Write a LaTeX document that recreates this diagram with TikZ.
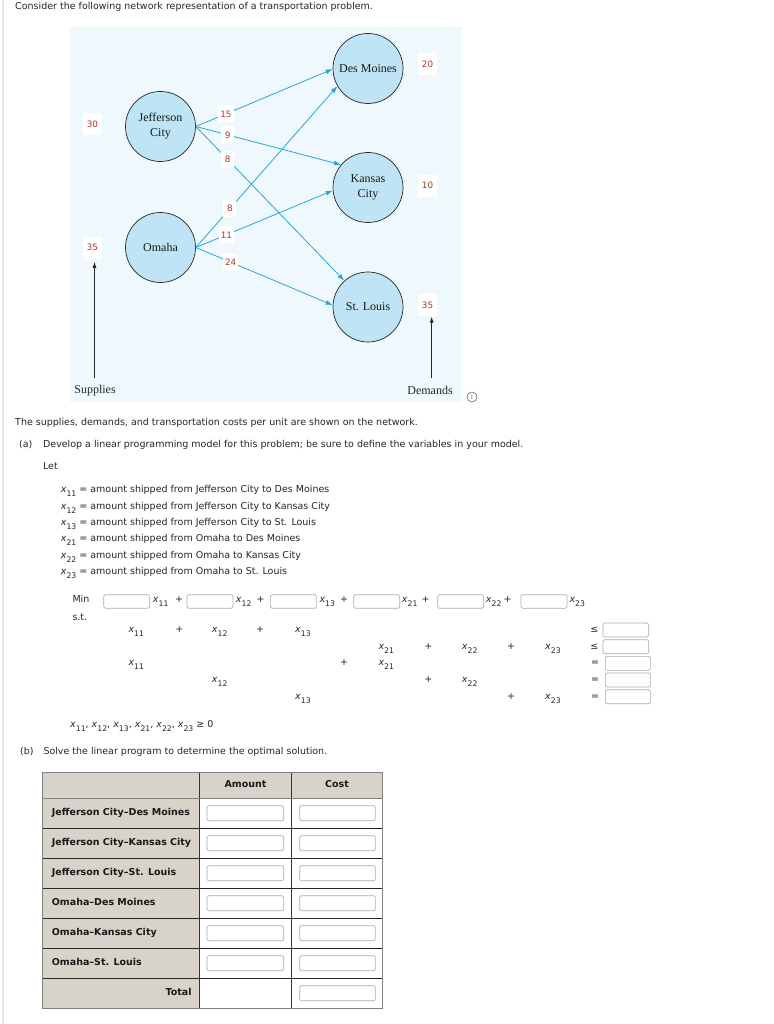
\documentclass[tikz,border=0pt]{standalone}
\usepackage{fontspec}
\setmainfont{DejaVu Sans}
\newfontfamily\netserif{Liberation Serif}
\usetikzlibrary{arrows.meta}
\definecolor{netbg}{HTML}{EEF8FD}
\definecolor{cityfill}{HTML}{BEE4F6}
\definecolor{flowc}{HTML}{29A7D5}
\definecolor{numred}{HTML}{A8382C}
\definecolor{tbg}{HTML}{D7D3CB}
\definecolor{boxgray}{HTML}{ABABAB}
\definecolor{bodyc}{HTML}{262626}
\definecolor{pageline}{HTML}{E2E2E2}
\newcommand{\bodysize}{\fontsize{9.5}{11}\selectfont}
\newcommand{\subsz}{\fontsize{7.7}{8}\selectfont}
\newcommand{\xv}[1]{\textit{x}\raisebox{-4pt}{\subsz #1}}
\begin{document}
\begin{tikzpicture}[x=1pt,y=-1pt,
  txt/.style={anchor=west,inner sep=0pt,font=\bodysize,text=bodyc,text height=7pt,text depth=2.2pt},
  ctxt/.style={txt,anchor=center},
  inbox/.style={draw=boxgray,line width=0.7pt,rounded corners=1.5pt,fill=white,inner sep=0pt,minimum width=46pt,minimum height=13.5pt,anchor=north west},
  city/.style={circle,draw=black!85,line width=0.7pt,fill=cityfill,minimum size=70pt,inner sep=0pt,align=center,font=\netserif\fontsize{12}{15}\selectfont,text=black!90},
  flow/.style={draw=flowc,line width=0.8pt,-{Latex[length=7pt,width=5pt]}},
  cost/.style={fill=white,inner xsep=2pt,inner ysep=0pt,minimum width=13pt,minimum height=17pt,font=\fontsize{8.8}{9}\selectfont,text=numred},
  sd/.style={fill=white,inner sep=0pt,minimum width=19pt,minimum height=22pt,font=\fontsize{8.8}{9}\selectfont,text=numred},
  sdarrow/.style={draw=black!85,line width=0.7pt,-{Latex[length=6pt,width=4pt]}},
  netlbl/.style={font=\netserif\fontsize{12}{14}\selectfont,text=black!85,inner sep=0pt},
  tlab/.style={txt,font=\bodysize\bfseries,text=black!90},
]
\useasboundingbox (0,0) rectangle (773,1024);
\fill[white] (0,0) rectangle (773,1024);
\draw[pageline,line width=1.5pt] (3,0) -- (3,1024);

% header
\node[txt] (hdr) at (15,7) {Consider the following network representation of a transportation problem.};

% network
\fill[netbg] (70,27) rectangle (462,402);
\node[city] (jc) at (160.5,126.5) {Jefferson\\City};
\node[city] (om) at (160.5,247.5) {Omaha};
\node[city] (dm) at (368,68.5) {Des Moines};
\node[city] (kc) at (368,187.5) {Kansas\\City};
\node[city] (sl) at (368,307) {St. Louis};

\draw[flow] (jc.east) -- node[cost,pos=0.22] (c11) {15} (dm.181);
\draw[flow] (jc.east) -- node[cost,pos=0.22] (c12) {9} (kc.140);
\draw[flow] (jc.east) -- node[cost,pos=0.215] (c13) {8} (sl.132);
\draw[flow] (om.east) -- node[cost,pos=0.24] (c21) {8} (dm.210);
\draw[flow] (om.east) -- node[cost,pos=0.223] (c22) {11} (kc.185);
\draw[flow] (om.east) -- node[cost,pos=0.254] (c23) {24} (sl.177);

\node[sd] (s30) at (92.5,124.3) {30};
\node[sd] (s35) at (92.5,247.7) {35};
\node[sd] (d20) at (427.5,64.3) {20};
\node[sd] (d10) at (427.5,185.7) {10};
\node[sd] (d35) at (427.5,305) {35};

\node[netlbl] (suplbl) at (95,390.7) {Supplies};
\node[netlbl] (demlbl) at (430,390.7) {Demands};
\coordinate (supbase) at (94.5,378);
\coordinate (dembase) at (431.7,378);
\draw[sdarrow,shorten >=3pt] (supbase) -- (supbase |- s35.south);
\draw[sdarrow,shorten >=0.5pt] (dembase) -- (dembase |- d35.south);
\node[circle,draw=black!60,line width=0.6pt,minimum size=10pt,inner sep=0pt,font=\fontsize{6.5}{7}\selectfont,text=black!70] (info) at (472,397) {i};

% text part (a)
\node[txt] (intro) at (15,423.3) {The supplies, demands, and transportation costs per unit are shown on the network.};
\node[txt] (pa) at (19,445) {(a)};
\node[txt] (pat) at (42.9,445) {Develop a linear programming model for this problem; be sure to define the variables in your model.};
\node[txt] (let) at (42.9,466.7) {Let};
\node[txt] (v11) at (60.7,490) {\xv{11} = amount shipped from Jefferson City to Des Moines};
\node[txt] (v12) at (60.7,506.7) {\xv{12} = amount shipped from Jefferson City to Kansas City};
\node[txt] (v13) at (60.7,523.3) {\xv{13} = amount shipped from Jefferson City to St. Louis};
\node[txt] (v21) at (60.7,539.5) {\xv{21} = amount shipped from Omaha to Des Moines};
\node[txt] (v22) at (60.7,556) {\xv{22} = amount shipped from Omaha to Kansas City};
\node[txt] (v23) at (60.7,572.5) {\xv{23} = amount shipped from Omaha to St. Louis};

% objective
\node[txt] (min) at (72.3,600) {Min};
\node[inbox] (o11) at (103.3,594.3) {};
\node[txt] (ox11) at (152.7,600) {\xv{11}};
\node[ctxt] (op1) at (179,600) {+};
\node[inbox] (o12) at (186.7,594.3) {};
\node[txt] (ox12) at (235.7,600) {\xv{12}};
\node[ctxt] (op2) at (260.7,600) {+};
\node[inbox] (o13) at (270,594.3) {};
\node[txt] (ox13) at (319.3,600) {\xv{13}};
\node[ctxt] (op3) at (344,600) {+};
\node[inbox] (o21) at (353.3,594.3) {};
\node[txt] (ox21) at (401.7,600) {\xv{21}};
\node[ctxt] (op4) at (425.7,600) {+};
\node[inbox] (o22) at (437.3,594.3) {};
\node[txt] (ox22) at (485.7,600) {\xv{22}};
\node[ctxt] (op5) at (507.7,600) {+};
\node[inbox] (o23) at (520.7,594.3) {};
\node[txt] (ox23) at (569.3,600) {\xv{23}};
\node[txt] (st) at (72.3,618.3) {s.t.};

% constraints
\node[txt] (r1a) at (128.3,630) {\xv{11}};
\node[ctxt] (r1p1) at (179.3,630) {+};
\node[txt] (r1b) at (211.7,630) {\xv{12}};
\node[ctxt] (r1p2) at (260,630) {+};
\node[txt] (r1c) at (295,630) {\xv{13}};
\node[ctxt] (r1r) at (594.3,630) {≤};
\node[inbox,minimum width=45.6pt,minimum height=14pt] (r1box) at (602.7,622.7) {};

\node[txt] (r2a) at (378.3,646.7) {\xv{21}};
\node[ctxt] (r2p1) at (428.3,646.7) {+};
\node[txt] (r2b) at (461.7,646.7) {\xv{22}};
\node[ctxt] (r2p2) at (511,646.7) {+};
\node[txt] (r2c) at (545,646.7) {\xv{23}};
\node[ctxt] (r2r) at (594.3,646.7) {≤};
\node[inbox,minimum width=45.6pt,minimum height=14pt] (r2box) at (602.7,639.3) {};

\node[txt] (r3a) at (128.3,663.3) {\xv{11}};
\node[ctxt] (r3p1) at (344,663.3) {+};
\node[txt] (r3b) at (378.3,663.3) {\xv{21}};
\node[ctxt] (r3r) at (595,663.3) {=};
\node[inbox,minimum width=45pt,minimum height=14pt] (r3box) at (605,656) {};

\node[txt] (r4a) at (211.7,680) {\xv{12}};
\node[ctxt] (r4p1) at (428.3,680) {+};
\node[txt] (r4b) at (461.7,680) {\xv{22}};
\node[ctxt] (r4r) at (595,680) {=};
\node[inbox,minimum width=45pt,minimum height=14pt] (r4box) at (605,672.7) {};

\node[txt] (r5a) at (295,696.7) {\xv{13}};
\node[ctxt] (r5p1) at (511,696.7) {+};
\node[txt] (r5b) at (545,696.7) {\xv{23}};
\node[ctxt] (r5r) at (595,696.7) {=};
\node[inbox,minimum width=45pt,minimum height=14pt] (r5box) at (605,689.3) {};

\node[txt] (nonneg) at (70,725) {\xv{11}, \xv{12}, \xv{13}, \xv{21}, \xv{22}, \xv{23} ≥ 0};

% part (b)
\node[txt] (pb) at (20,751.7) {(b)};
\node[txt] (pbt) at (43.3,751.7) {Solve the linear program to determine the optimal solution.};

% table
\fill[tbg] (42.7,772.7) rectangle (382,798.3);
\fill[tbg] (42.7,798.3) rectangle (199.3,1008.3);
\foreach \yy in {828.3,858.3,888.3,918.3,948.3,978.3}
  \draw[black!85,line width=0.8pt] (42.7,\yy) -- (382,\yy);
\draw[black!80,line width=0.8pt] (199.3,772.7) -- (199.3,1008.3);
\draw[black!80,line width=0.8pt] (291.7,772.7) -- (291.7,1008.3);
\draw[black!50,line width=0.8pt] (42.7,798.3) -- (382,798.3);
\draw[black!50,line width=1pt] (42.7,772.7) rectangle (382,1008.3);
\node[ctxt,font=\bodysize\bfseries,text=black!90] (hamt) at (245.5,785.5) {Amount};
\node[ctxt,font=\bodysize\bfseries,text=black!90] (hcost) at (337,785.5) {Cost};
\foreach \i/\lab in {1/Jefferson City–Des Moines,2/Jefferson City–Kansas City,3/Jefferson City–St. Louis,4/Omaha–Des Moines,5/Omaha–Kansas City,6/Omaha–St. Louis}{
  \node[tlab] (row\i) at (51.7,{783.3+30*\i}) {\lab};
  \node[inbox,anchor=west,minimum width=76.6pt,minimum height=15pt] (amt\i) at (206.7,{783.3+30*\i}) {};
  \node[inbox,anchor=west,minimum width=75.7pt,minimum height=15pt] (cst\i) at (299.3,{783.3+30*\i}) {};
}
\node[tlab,anchor=east] (total) at (191.7,993.3) {Total};
\node[inbox,anchor=west,minimum width=75.7pt,minimum height=15pt] (cst7) at (299.3,993.3) {};
\end{tikzpicture}
\end{document}
